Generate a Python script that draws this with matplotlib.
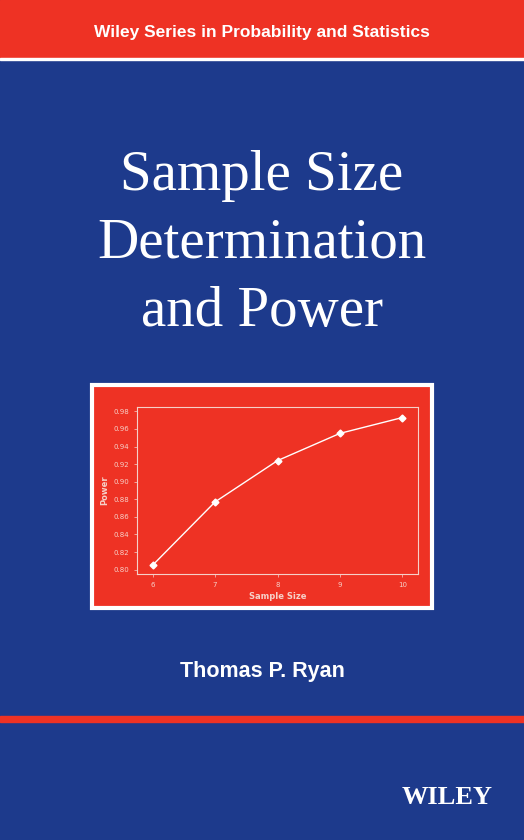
import matplotlib; matplotlib.use("Agg")
import matplotlib.pyplot as plt
from matplotlib.patches import Rectangle

BLUE, RED, WHITE = "#1d3a8c", "#ee3224", "#ffffff"
sizes = [6, 7, 8, 9, 10]
power = [0.805, 0.877, 0.924, 0.955, 0.973]
yticks = [0.80, 0.82, 0.84, 0.86, 0.88, 0.90, 0.92, 0.94, 0.96, 0.98]

W, H = 524, 840
fig = plt.figure(figsize=(W/100, H/100), dpi=100)
bg = fig.add_axes([0, 0, 1, 1]); bg.set_xlim(0, W); bg.set_ylim(H, 0); bg.axis("off")
bg.add_patch(Rectangle((0, 0), W, H, color=BLUE))
bg.add_patch(Rectangle((0, 0), W, 58, color=RED))
bg.add_patch(Rectangle((0, 716), W, 6, color=RED))
bg.add_patch(Rectangle((0, 58), W, 1.5, color=WHITE))
bg.text(262, 32, "Wiley Series in Probability and Statistics", color=WHITE, fontsize=12.5,
        fontweight="bold", ha="center", va="center", family="Liberation Sans")
for i, t in enumerate(["Sample Size", "Determination", "and Power"]):
    bg.text(262, 176 + i*68, t, color=WHITE, fontsize=41, ha="center", va="center", family="Liberation Serif")
bg.text(262, 671, "Thomas P. Ryan", color=WHITE, fontsize=15.5, fontweight="bold",
        ha="center", va="center", family="Liberation Sans")
bg.text(447, 797, "WILEY", color=WHITE, fontsize=19, fontweight="bold",
        ha="center", va="center", family="Liberation Serif")
# chart panel
bg.add_patch(Rectangle((92, 385), 340, 223, facecolor=RED, edgecolor=WHITE, linewidth=3))

ax = fig.add_axes([137/W, 1-574/H, (418-137)/W, (574-407)/H])
ax.set_facecolor(RED)
ax.plot(sizes, power, color=WHITE, lw=1, marker="D", ms=3.5)
ax.set_xlim(5.75, 10.25); ax.set_ylim(0.795, 0.985)
ax.set_xticks(sizes); ax.set_yticks(yticks)
ax.set_yticklabels([f"{v:.2f}" for v in yticks])
for s in ax.spines.values(): s.set_color("#f6d0c8"); s.set_linewidth(0.8)
ax.tick_params(colors="#f6d0c8", labelsize=5, length=2, width=0.5)
ax.set_xlabel("Sample Size", color="#f6d0c8", fontsize=6, fontweight="bold", labelpad=3)
ax.set_ylabel("Power", color="#f6d0c8", fontsize=6, fontweight="bold", labelpad=3)
fig.savefig("out.png", dpi=100)
